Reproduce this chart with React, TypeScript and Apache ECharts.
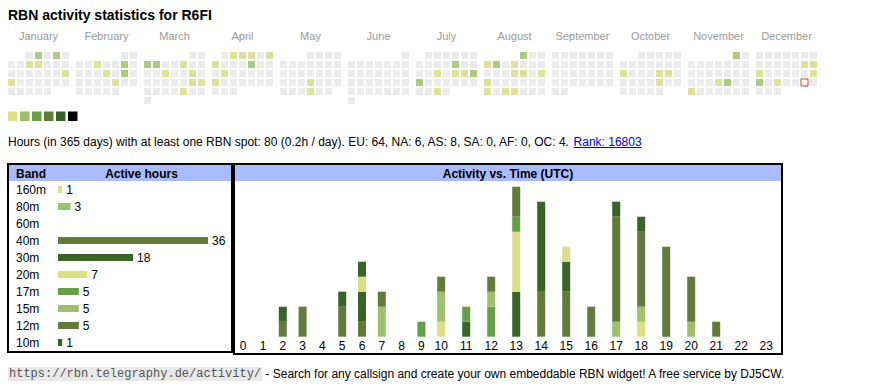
import React, { useEffect, useRef } from 'react';
import * as echarts from 'echarts';

const YEAR = 2025;
const monthNames = ['January', 'February', 'March', 'April', 'May', 'June', 'July', 'August', 'September', 'October', 'November', 'December'];

// days with level-1 (light) activity
const level1Days = [
  '2025-01-08', '2025-01-09', '2025-01-19', '2025-01-20',
  '2025-02-05', '2025-02-13', '2025-02-21',
  '2025-03-07', '2025-03-12', '2025-03-15', '2025-03-22', '2025-03-23', '2025-03-28',
  '2025-04-02', '2025-04-03', '2025-04-04', '2025-04-06', '2025-04-07', '2025-04-15', '2025-04-21',
  '2025-05-22', '2025-05-29',
  '2025-07-16', '2025-07-18', '2025-07-19', '2025-07-30',
  '2025-08-04', '2025-08-07', '2025-08-14', '2025-08-15', '2025-08-17', '2025-08-18', '2025-08-25', '2025-08-27', '2025-08-28',
  '2025-10-13', '2025-10-17', '2025-10-18', '2025-10-24',
  '2025-11-20', '2025-11-24',
  '2025-12-13', '2025-12-14', '2025-12-15', '2025-12-21', '2025-12-24',
];
// days with level-2 activity
const level2Days = [
  '2025-01-02', '2025-01-04', '2025-02-08', '2025-02-15', '2025-03-03', '2025-03-04',
  '2025-04-11', '2025-07-11', '2025-07-20', '2025-07-21', '2025-08-01', '2025-08-05',
  '2025-11-01', '2025-11-21', '2025-12-22',
];
const todayDay = '2025-12-27';

const bands = ['160m', '80m', '60m', '40m', '30m', '20m', '17m', '15m', '12m', '10m'];
const bandActiveHours = [1, 3, 0, 36, 18, 7, 5, 5, 5, 1];

const hourLabels = ['0', '1', '2', '3', '4', '5', '6', '7', '8', '9', '10', '11', '12', '13', '14', '15', '16', '17', '18', '19', '20', '21', '22', '23'];
const hourly160m = [0, 0, 0, 0, 0, 0, 0, 0, 0, 0, 0, 0, 0, 0, 0, 0, 0, 0, 1, 0, 0, 0, 0, 0];
const hourly80m = [0, 0, 0, 0, 0, 0, 0, 0, 0, 0, 0, 0, 0, 0, 0, 0, 0, 1, 1, 0, 1, 0, 0, 0];
const hourly60m = [0, 0, 0, 0, 0, 0, 0, 0, 0, 0, 0, 0, 0, 0, 0, 0, 0, 0, 0, 0, 0, 0, 0, 0];
const hourly40m = [0, 0, 1, 2, 0, 2, 1, 0, 0, 0, 0, 0, 0, 0, 3, 3, 2, 7, 5, 6, 3, 1, 0, 0];
const hourly30m = [0, 0, 1, 0, 0, 1, 2, 0, 0, 0, 0, 1, 0, 3, 6, 2, 0, 1, 1, 0, 0, 0, 0, 0];
const hourly20m = [0, 0, 0, 0, 0, 0, 1, 0, 0, 0, 1, 0, 0, 4, 0, 1, 0, 0, 0, 0, 0, 0, 0, 0];
const hourly17m = [0, 0, 0, 0, 0, 0, 0, 0, 0, 1, 0, 1, 2, 1, 0, 0, 0, 0, 0, 0, 0, 0, 0, 0];
const hourly15m = [0, 0, 0, 0, 0, 0, 0, 2, 0, 0, 2, 0, 1, 0, 0, 0, 0, 0, 0, 0, 0, 0, 0, 0];
const hourly12m = [0, 0, 0, 0, 0, 0, 0, 1, 0, 0, 1, 0, 1, 2, 0, 0, 0, 0, 0, 0, 0, 0, 0, 0];
const hourly10m = [0, 0, 0, 0, 0, 0, 1, 0, 0, 0, 0, 0, 0, 0, 0, 0, 0, 0, 0, 0, 0, 0, 0, 0];
const hourlyByBand = [hourly160m, hourly80m, hourly60m, hourly40m, hourly30m, hourly20m, hourly17m, hourly15m, hourly12m, hourly10m];

const titleText = 'RBN activity statistics for R6FI';
const summaryText = 'Hours (in 365 days) with at least one RBN spot: 80 (0.2h / day). EU: 64, NA: 6, AS: 8, SA: 0, AF: 0, OC: 4. ';
const rankText = 'Rank: 16803';
const footerUrl = 'https://rbn.telegraphy.de/activity/';
const footerText = ' - Search for any callsign and create your own embeddable RBN widget! A free service by DJ5CW.';

// styles
const palette = ['#d9e086', '#9dc16a', '#66a046', '#637b3a', '#386526', '#000000'];
const bandColors = [palette[0], palette[1], palette[2], palette[3], palette[4], palette[0], palette[2], palette[1], palette[3], palette[4]];
const SANS = '"Liberation Sans", Arial, sans-serif';
const MONO = '"Liberation Mono", monospace';

function measure(text: string, font: string): number {
  const ctx = document.createElement('canvas').getContext('2d');
  if (!ctx) return text.length * 6;
  ctx.font = font;
  return ctx.measureText(text).width;
}

function monthIndex(d: string) {
  return parseInt(d.slice(5, 7), 10) - 1;
}

function buildOption() {
  const calendars = monthNames.map((_, i) => ({
    orient: 'vertical',
    range: `${YEAR}-${String(i + 1).padStart(2, '0')}`,
    left: 7 + 68 * i,
    top: 51,
    cellSize: [9, 9],
    splitLine: { show: false },
    dayLabel: { show: false, firstDay: 1 },
    monthLabel: { show: false },
    yearLabel: { show: false },
    itemStyle: { color: '#ebebeb', borderColor: '#ffffff', borderWidth: 2 },
    silent: true,
  }));

  const series: any[] = monthNames.map((_, i) => ({
    type: 'scatter',
    coordinateSystem: 'calendar',
    calendarIndex: i,
    symbol: 'rect',
    symbolSize: 7,
    silent: true,
    data: [
      ...level1Days.filter((d) => monthIndex(d) === i).map((d) => ({ value: [d, 1], itemStyle: { color: palette[0] } })),
      ...level2Days.filter((d) => monthIndex(d) === i).map((d) => ({ value: [d, 2], itemStyle: { color: palette[1] } })),
    ],
  }));

  series.push({
    type: 'scatter',
    coordinateSystem: 'calendar',
    calendarIndex: monthIndex(todayDay),
    symbol: 'rect',
    symbolSize: 7,
    silent: true,
    itemStyle: { color: '#ffffff', borderColor: '#ee0000', borderWidth: 1 },
    data: [[todayDay, 0]],
  });

  // band table bars
  series.push({
    type: 'bar',
    xAxisIndex: 0,
    yAxisIndex: 0,
    barWidth: 7,
    silent: true,
    data: bandActiveHours.map((v, k) => ({ value: v, itemStyle: { color: bandColors[k] } })),
    label: {
      show: true,
      position: 'right',
      distance: 4,
      fontSize: 12,
      fontFamily: SANS,
      color: '#000',
      formatter: (p: any) => (p.value > 0 ? String(p.value) : ''),
    },
  });

  // activity vs time stacked bars
  bands.forEach((b, k) => {
    series.push({
      type: 'bar',
      name: b,
      xAxisIndex: 1,
      yAxisIndex: 1,
      stack: 'early',
      barWidth: 8,
      silent: true,
      itemStyle: { color: bandColors[k] },
      data: hourlyByBand[k].slice(0, 11),
    });
    series.push({
      type: 'bar',
      name: b,
      xAxisIndex: 2,
      yAxisIndex: 2,
      stack: 'late',
      barWidth: 8,
      silent: true,
      itemStyle: { color: bandColors[k] },
      data: hourlyByBand[k].slice(11),
    });
  });

  const summaryFont = `12px ${SANS}`;
  const summaryW = measure(summaryText, '12px "Liberation Sans"');
  const rankW = measure(rankText, '12px "Liberation Sans"');
  const urlW = measure(footerUrl, '12px "Liberation Mono"');

  const txt = (text: string, x: number, y: number, font: string, fill: string, align = 'left') => ({
    type: 'text',
    x,
    y,
    z: 10,
    silent: true,
    style: { text, font, fill, align, verticalAlign: 'middle', textAlign: align, textVerticalAlign: 'middle' },
  });

  const graphic: any[] = [
    txt(titleText, 8, 15, `bold 14px ${SANS}`, '#000'),
    ...monthNames.map((m, i) => txt(m, 38.5 + 68 * i, 35.5, `11px ${SANS}`, '#9a9a9a', 'center')),
    ...palette.map((c, i) => ({ type: 'rect', silent: true, shape: { x: 8 + 12 * i, y: 111.5, width: 9.5, height: 9.5 }, style: { fill: c } })),
    txt(summaryText, 8, 141.5, summaryFont, '#000'),
    txt(rankText, 8 + summaryW, 141.5, summaryFont, '#0000ee'),
    { type: 'line', silent: true, shape: { x1: 8 + summaryW, y1: 147.5, x2: 8 + summaryW + rankW, y2: 147.5 }, style: { stroke: '#0000ee', lineWidth: 1 } },
    // header backgrounds
    { type: 'rect', silent: true, z: 1, shape: { x: 9, y: 165, width: 222, height: 16 }, style: { fill: '#aabbff' } },
    { type: 'rect', silent: true, z: 1, shape: { x: 235, y: 165, width: 546, height: 16 }, style: { fill: '#aabbff' } },
    txt('Band', 16, 173.5, `bold 12px ${SANS}`, '#000'),
    txt('Active hours', 141.5, 173.5, `bold 12px ${SANS}`, '#000', 'center'),
    txt('Activity vs. Time (UTC)', 508, 173.5, `bold 12px ${SANS}`, '#000', 'center'),
    // panel borders
    { type: 'rect', silent: true, z: 5, shape: { x: 8, y: 164, width: 224, height: 188 }, style: { fill: 'none', stroke: '#000', lineWidth: 2 } },
    { type: 'rect', silent: true, z: 5, shape: { x: 234, y: 164, width: 548, height: 190 }, style: { fill: 'none', stroke: '#000', lineWidth: 2 } },
    // footer
    { type: 'rect', silent: true, shape: { x: 8, y: 367, width: urlW + 2, height: 14 }, style: { fill: '#e8e8e8' } },
    txt(footerUrl, 9, 374, `12px ${MONO}`, '#555'),
    txt(footerText, 10 + urlW, 374, `12px ${SANS}`, '#000'),
  ];

  return {
    animation: false,
    backgroundColor: '#ffffff',
    calendar: calendars,
    grid: [
      { left: 58, top: 181, width: 150, height: 170 },
      { left: 233.3, top: 186.7, width: 217.8, height: 150 },
      { left: 453.7, top: 186.7, width: 325, height: 150 },
    ],
    xAxis: [
      { type: 'value', gridIndex: 0, min: 0, max: 36, show: false },
      {
        type: 'category', gridIndex: 1, data: hourLabels.slice(0, 11),
        axisLine: { show: false }, axisTick: { show: false },
        axisLabel: { interval: 0, margin: 3, fontSize: 12, fontFamily: SANS, color: '#000' },
      },
      {
        type: 'category', gridIndex: 2, data: hourLabels.slice(11),
        axisLine: { show: false }, axisTick: { show: false },
        axisLabel: { interval: 0, margin: 3, fontSize: 12, fontFamily: SANS, color: '#000' },
      },
    ],
    yAxis: [
      {
        type: 'category', gridIndex: 0, data: bands, inverse: true,
        axisLine: { show: false }, axisTick: { show: false }, splitLine: { show: false },
        axisLabel: { align: 'left', margin: 42, fontSize: 12, fontFamily: SANS, color: '#000' },
      },
      { type: 'value', gridIndex: 1, min: 0, max: 10, show: false },
      { type: 'value', gridIndex: 2, min: 0, max: 10, show: false },
    ],
    series,
    graphic,
  };
}

export default function App() {
  const ref = useRef<HTMLDivElement>(null);
  useEffect(() => {
    if (!ref.current) return;
    const chart = echarts.init(ref.current, null, { renderer: 'svg' });
    chart.setOption(buildOption() as any);
    return () => chart.dispose();
  }, []);
  return <div ref={ref} style={{ position: 'absolute', left: 0, top: 0, width: 870, height: 390, background: '#fff' }} />;
}
